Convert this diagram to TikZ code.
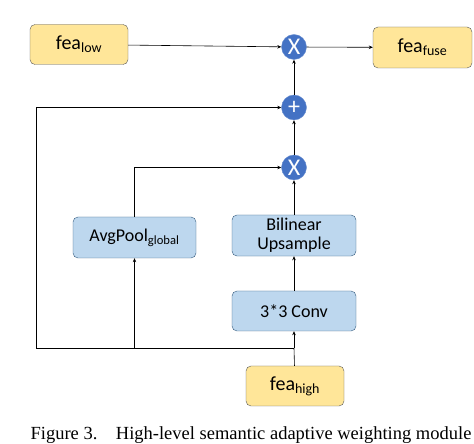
\documentclass[tikz,border=0pt]{standalone}
\usepackage{fontspec}
\setmainfont{Carlito}
\newfontfamily\captionfont{Liberation Serif}
\usetikzlibrary{arrows.meta}
\definecolor{feafill}{HTML}{FFE699}
\definecolor{opfill}{HTML}{BDD7EE}
\definecolor{opline}{HTML}{41719C}
\definecolor{nodefill}{HTML}{4472C4}

\begin{document}
\begin{tikzpicture}[x=1pt,y=1pt,
    feabox/.style={draw=black!65,fill=feafill,rounded corners=5pt,minimum width=98pt,minimum height=40pt,font=\fontsize{20}{22}\selectfont},
    opbox/.style={draw=opline!80!black,fill=opfill,rounded corners=5pt,minimum width=124pt,minimum height=41pt,align=center,font=\fontsize{18}{19}\selectfont},
    mix/.style={circle,fill=nodefill,draw=nodefill!80!white,inner sep=0pt,minimum size=25pt,text=white,font=\fontsize{24}{24}\selectfont},
    link/.style={line width=0.6pt,-{Stealth[length=4pt,width=3.5pt]}}]
        \useasboundingbox (0,0) rectangle (474,444);
        \node[feabox] (low) at (79,399.5) {fea\textsubscript{low}};
        \node[feabox,minimum width=99pt,minimum height=41pt] (fuse) at (422.5,396.5) {fea\textsubscript{fuse}};
        \node[mix] (mulA) at (294,397) {X};
        \node[mix] (plus) at (294,336.5) {+};
        \node[mix] (mulB) at (294,276.5) {X};
        \node[opbox,minimum width=123pt] (pool) at (134.5,206.5) {AvgPool\textsubscript{global}};
        \node[opbox] (bilin) at (294,208.5) {Bilinear\\Upsample};
        \node[opbox,minimum height=40pt] (conv) at (294,133) {3*3 Conv};
        \node[feabox] (high) at (295,58) {fea\textsubscript{high}};
        \coordinate (split) at (294,96);
        \coordinate (splitL) at (36,96);
        \coordinate (splitP) at (134.5,96);
        % main path
        \draw[link] (low) -- (mulA);
        \draw[link] (mulA) -- (fuse);
        \draw[link] (plus) -- (mulA);
        \draw[link] (mulB) -- (plus);
        \draw[link] (bilin) -- (mulB);
        \draw[link] (conv) -- (bilin);
        \draw[line width=0.6pt] (high) -- (split);
        \draw[link] (split) -- (conv);
        % side branches
        \draw[line width=0.6pt] (split) -- (splitL);
        \draw[link] (splitL) |- (plus);
        \draw[link] (splitP) -- (pool);
        \draw[link] (pool.north) |- (mulB);
        \node[font=\captionfont\fontsize{18.5}{20}\selectfont] (caption) at (251,9) {Figure 3.\hspace{1em}High-level semantic adaptive weighting module};
\end{tikzpicture}
\end{document}
